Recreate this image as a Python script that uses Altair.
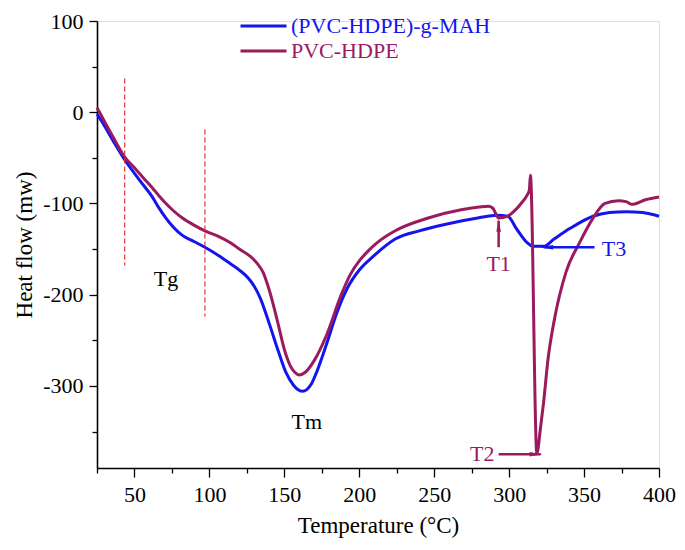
import altair as alt
import pandas as pd

# ---- data ----
blue_T = [25, 30, 36, 43, 50, 56, 62, 66, 71, 76, 82, 90, 97, 106, 114, 120, 126, 130, 134,
          140, 146, 151, 156, 159, 162, 165, 168, 172, 178, 185, 192, 200, 210, 224, 240,
          257, 279, 292, 299, 305, 312, 316, 323, 330, 341, 356, 367, 378, 389, 400]
blue_v = [-2, -15, -32, -51, -67, -80, -93, -104, -116, -126, -135, -142, -148, -157, -166, -173, -182, -191, -204,
          -232, -262, -285, -299, -304, -306, -304, -298, -283, -255, -220, -193, -173, -157, -139, -130,
          -123, -116, -113, -114, -128, -143, -147, -147, -139, -127, -114, -110, -109, -110, -114]

purple_T = [25, 30, 36, 43, 50, 56, 62, 66, 71, 76, 82, 90, 97, 106, 114, 120, 128, 132, 136,
            139, 142, 146, 150, 154, 157, 160, 164, 170, 178, 188, 194, 200, 206, 212, 224, 246, 268, 280, 286,
            289, 293, 299, 303, 308, 312, 313.5, 314.2, 318.5, 321, 323, 326, 330, 338, 347,
            356, 364, 373, 378, 382, 391, 400]
purple_v = [5, -10, -28, -48, -61, -72, -83, -91, -100, -108, -116, -124, -130, -136, -143, -150, -159, -166, -176,
            -190, -207, -233, -260, -278, -285, -288, -285, -272, -245, -200, -178, -163, -152, -143, -130, -116, -107, -104, -103,
            -105, -116, -114, -109, -100, -91, -85, -69, -374, -345, -318, -270, -229, -175, -143,
            -116, -100, -97, -98, -101, -96, -93]

series_names = ["(PVC-HDPE)-g-MAH", "PVC-HDPE"]
series_colors = ["#1414EE", "#9B1A5E"]

# dashed Tg guide lines
dash_T = [43.5, 97]
dash_top = [37, -19]
dash_bot = [-168, -224]

# arrows (shaft start/end)
arrow_x1 = [293, 357, 293]
arrow_x2 = [293, 323, 321]
arrow_y1 = [-148, -148, -375]
arrow_y2 = [-119, -148, -375]
arrow_col = ["#9B1A5E", "#1414EE", "#9B1A5E"]
head_x = [293, 325, 318]
head_y = [-124, -148, -375]
head_shape = ["M0,-1L0.35,1L-0.35,1Z", "M-1,0L1,-0.35L1,0.35Z", "M1,0L-1,-0.35L-1,0.35Z"]

# text labels
lab_text = ["Tg", "Tm", "T1", "T2", "T3"]
lab_T = [71, 165, 293, 282, 370]
lab_v = [-183, -340, -166, -375, -150]
lab_col = ["black", "black", "#9B1A5E", "#9B1A5E", "#1414EE"]

x_major = [50, 100, 150, 200, 250, 300, 350, 400]
x_minor = [25, 75, 125, 175, 225, 275, 325, 375]
y_major = [100, 0, -100, -200, -300]
y_minor = [50, -50, -150, -250, -350]

FONT = "Liberation Serif"
LBL = "'' + datum.value"

df = pd.concat([
    pd.DataFrame({"T": blue_T, "v": blue_v, "s": series_names[0], "o": 0}),
    pd.DataFrame({"T": purple_T, "v": purple_v, "s": series_names[1], "o": 1}),
])

xs = alt.Scale(domain=[25, 400], nice=False, zero=False)
ys = alt.Scale(domain=[-390, 100], nice=False, zero=False)

x_axis = alt.Axis(values=x_major, title="Temperature (°C)", grid=False, orient="bottom",
                  tickSize=9, tickColor="black", tickWidth=1.3, domainColor="black", domainWidth=1.6,
                  labelFont=FONT, labelFontSize=22, labelColor="black", labelPadding=7,
                  labelExpr=LBL,
                  titleFont=FONT, titleFontSize=23, titleFontWeight="normal", titleColor="black",
                  titlePadding=9, labelFlush=False)
y_axis = alt.Axis(values=y_major, title="Heat flow (mw)", grid=False, orient="left",
                  tickSize=8, tickColor="black", tickWidth=1.3, domainColor="black", domainWidth=1.6,
                  labelFont=FONT, labelFontSize=22, labelColor="black", labelPadding=6,
                  labelExpr=LBL,
                  titleFont=FONT, titleFontSize=23, titleFontWeight="normal", titleColor="black",
                  titlePadding=6, labelFlush=False)

X = alt.X("T:Q", scale=xs, axis=x_axis)
Y = alt.Y("v:Q", scale=ys, axis=y_axis)

lines = alt.Chart(df).mark_line(strokeWidth=3, interpolate="monotone").encode(
    x=X, y=Y,
    color=alt.Color("s:N", scale=alt.Scale(domain=series_names, range=series_colors),
                    legend=alt.Legend(title=None, orient="none", legendX=142, legendY=-6, padding=0,
                                      symbolType="stroke", symbolStrokeWidth=3, symbolSize=2116,
                                      clipHeight=22, rowPadding=3, labelLimit=400,
                                      labelFont=FONT, labelFontSize=22, labelOffset=3,
                                      labelColor=alt.ExprRef("datum.label == 'PVC-HDPE' ? '#9B1A5E' : '#1414EE'"))),
    order="o:Q",
    detail="s:N",
)

dash_df = pd.DataFrame({"T": dash_T, "v": dash_top, "v2": dash_bot})
dashes = alt.Chart(dash_df).mark_rule(color="#E8322E", strokeWidth=1.2, strokeDash=[5, 3]).encode(
    x=X, y=Y, y2="v2:Q")

arr_df = pd.DataFrame({"T": arrow_x1, "T2": arrow_x2, "v": arrow_y1, "v2": arrow_y2, "c": arrow_col})
arrows = alt.Chart(arr_df).mark_rule(strokeWidth=2.5).encode(
    x=X, x2="T2:Q", y=Y, y2="v2:Q", color=alt.Color("c:N", scale=None))

head_layers = []
for hx, hy, hs, hc in zip(head_x, head_y, head_shape, arrow_col):
    hdf = pd.DataFrame({"T": [hx], "v": [hy]})
    head_layers.append(alt.Chart(hdf).mark_point(shape=hs, size=170, filled=True, color=hc, opacity=1,
                                                 strokeWidth=0).encode(x=X, y=Y))

lab_df = pd.DataFrame({"T": lab_T, "v": lab_v, "t": lab_text, "c": lab_col})
labels = alt.Chart(lab_df).mark_text(font=FONT, fontSize=22, baseline="middle", align="center").encode(
    x=X, y=Y, text="t:N", color=alt.Color("c:N", scale=None))

main = alt.layer(lines, dashes, arrows, *head_layers, labels)

minor_df = pd.DataFrame({"T": [25, 400], "v": [0, 0]})
minor = alt.Chart(minor_df).mark_point(opacity=0).encode(
    x=alt.X("T:Q", scale=xs, axis=alt.Axis(values=x_minor, orient="bottom", labels=False, title=None,
                                           grid=False, domain=False, tickSize=5, tickColor="black", tickWidth=1.3)),
    y=alt.Y("v:Q", scale=ys, axis=alt.Axis(values=y_minor, orient="left", labels=False, title=None,
                                           grid=False, domain=False, tickSize=5, tickColor="black", tickWidth=1.3)),
)

chart = alt.layer(main, minor).resolve_axis(x="independent", y="independent").properties(
    width=562, height=447,
    autosize=alt.AutoSizeParams(type="none"),
    padding={"left": 89, "top": 13, "right": 18, "bottom": 74},
).configure_view(stroke="black", strokeWidth=1.6).configure_axis(
    labelFont=FONT, titleFont=FONT
).configure_legend(labelFont=FONT).configure_text(font=FONT).configure(background="white")

chart.save("out.html", embed_options={"renderer": "svg", "actions": False})
